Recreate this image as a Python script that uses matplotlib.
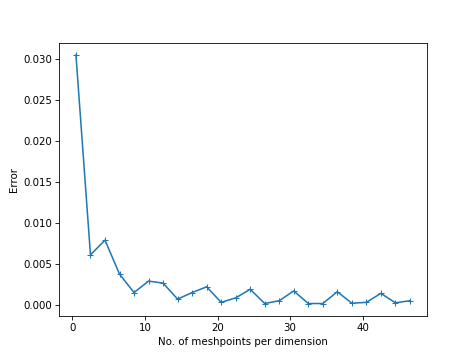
import matplotlib
matplotlib.use('Agg')
import matplotlib.pyplot as plt

# mesh sizes and errors
meshpoints = [0.5, 2.5, 4.5, 6.5, 8.5, 10.5, 12.5, 14.5, 16.5, 18.5, 20.5, 22.5,
              24.5, 26.5, 28.5, 30.5, 32.5, 34.5, 36.5, 38.5, 40.5, 42.5, 44.5, 46.5]
errors = [0.0305, 0.0061, 0.0079, 0.00375, 0.0015, 0.0029, 0.00265, 0.0007,
          0.0015, 0.0022, 0.0003, 0.00085, 0.0019, 0.00016, 0.0005, 0.0017,
          0.00016, 0.00016, 0.0016, 0.0002, 0.0003, 0.0014, 0.00025, 0.0005]

fig = plt.figure(figsize=(474 / 74, 355 / 74), dpi=74)
plt.plot(meshpoints, errors, marker='+')
plt.xlabel('No. of meshpoints per dimension')
plt.ylabel('Error')

plt.savefig('out.png', dpi=74)
